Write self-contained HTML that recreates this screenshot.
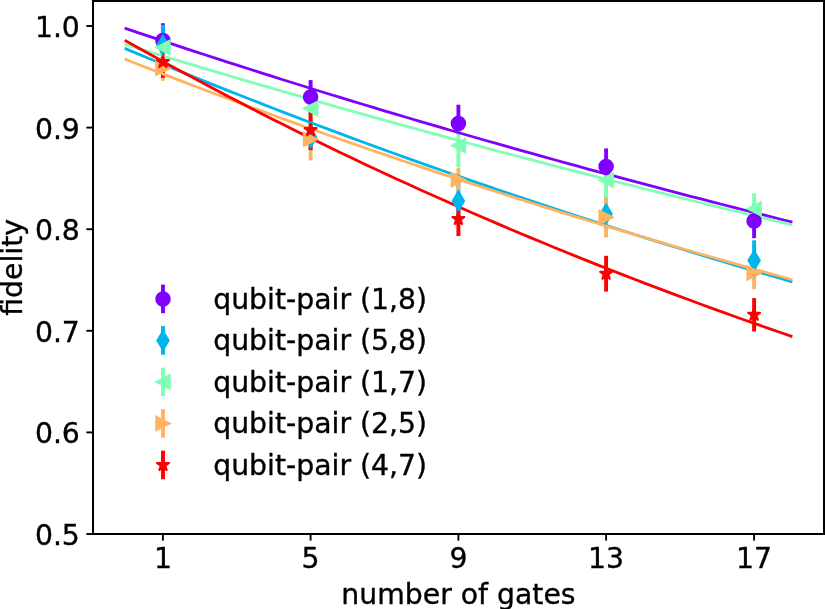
<!DOCTYPE html>
<html><head><meta charset="utf-8"><title>fidelity vs number of gates</title>
<style>html,body{margin:0;padding:0;background:#fff;} body{width:825px;height:609px;overflow:hidden;} svg{display:block;}</style>
</head><body>
<svg width="825" height="609" viewBox="0 0 825 609">
<rect x="0" y="0" width="825" height="609" fill="#ffffff"/>
<line x1="162.9" y1="23.2" x2="162.9" y2="57.6" stroke="#8000ff" stroke-width="3.9"/>
<line x1="310.6" y1="80.1" x2="310.6" y2="113.9" stroke="#8000ff" stroke-width="3.9"/>
<line x1="458.4" y1="104.7" x2="458.4" y2="132.5" stroke="#8000ff" stroke-width="3.9"/>
<line x1="606.1" y1="148.4" x2="606.1" y2="184.8" stroke="#8000ff" stroke-width="3.9"/>
<line x1="754.1" y1="203.6" x2="754.1" y2="238.2" stroke="#8000ff" stroke-width="3.9"/>
<line x1="162.9" y1="24.9" x2="162.9" y2="65.5" stroke="#00b5eb" stroke-width="3.9"/>
<line x1="310.6" y1="125.6" x2="310.6" y2="149.6" stroke="#00b5eb" stroke-width="3.9"/>
<line x1="458.4" y1="182.9" x2="458.4" y2="218.9" stroke="#00b5eb" stroke-width="3.9"/>
<line x1="606.1" y1="195.9" x2="606.1" y2="231.9" stroke="#00b5eb" stroke-width="3.9"/>
<line x1="754.1" y1="240.3" x2="754.1" y2="280.7" stroke="#00b5eb" stroke-width="3.9"/>
<line x1="162.9" y1="34.4" x2="162.9" y2="60.4" stroke="#80ffb4" stroke-width="3.9"/>
<line x1="310.6" y1="90.6" x2="310.6" y2="126.6" stroke="#80ffb4" stroke-width="3.9"/>
<line x1="458.4" y1="123.8" x2="458.4" y2="167.4" stroke="#80ffb4" stroke-width="3.9"/>
<line x1="606.1" y1="163.2" x2="606.1" y2="197.2" stroke="#80ffb4" stroke-width="3.9"/>
<line x1="754.1" y1="193.2" x2="754.1" y2="224.2" stroke="#80ffb4" stroke-width="3.9"/>
<line x1="162.9" y1="55.8" x2="162.9" y2="80.8" stroke="#ffb360" stroke-width="3.9"/>
<line x1="310.6" y1="118.1" x2="310.6" y2="160.5" stroke="#ffb360" stroke-width="3.9"/>
<line x1="458.4" y1="168.1" x2="458.4" y2="191.5" stroke="#ffb360" stroke-width="3.9"/>
<line x1="606.1" y1="196.9" x2="606.1" y2="237.5" stroke="#ffb360" stroke-width="3.9"/>
<line x1="754.1" y1="256.7" x2="754.1" y2="289.1" stroke="#ffb360" stroke-width="3.9"/>
<line x1="162.9" y1="46.1" x2="162.9" y2="77.9" stroke="#ff0000" stroke-width="3.9"/>
<line x1="310.6" y1="110.1" x2="310.6" y2="150.1" stroke="#ff0000" stroke-width="3.9"/>
<line x1="458.4" y1="201.7" x2="458.4" y2="236.1" stroke="#ff0000" stroke-width="3.9"/>
<line x1="606.1" y1="255.8" x2="606.1" y2="291.6" stroke="#ff0000" stroke-width="3.9"/>
<line x1="754.1" y1="298.1" x2="754.1" y2="331.5" stroke="#ff0000" stroke-width="3.9"/>
<path d="M125.95 28.61 L137.22 32.4 L148.5 36.18 L159.77 39.93 L171.04 43.67 L182.31 47.39 L193.59 51.08 L204.86 54.76 L216.13 58.42 L227.41 62.06 L238.68 65.68 L249.95 69.28 L261.22 72.86 L272.5 76.43 L283.77 79.97 L295.04 83.5 L306.32 87.01 L317.59 90.5 L328.86 93.97 L340.13 97.42 L351.41 100.86 L362.68 104.28 L373.95 107.68 L385.23 111.06 L396.5 114.43 L407.77 117.77 L419.04 121.1 L430.32 124.42 L441.59 127.71 L452.86 130.99 L464.14 134.25 L475.41 137.5 L486.68 140.73 L497.96 143.94 L509.23 147.13 L520.5 150.31 L531.77 153.47 L543.05 156.61 L554.32 159.74 L565.59 162.85 L576.87 165.95 L588.14 169.03 L599.41 172.09 L610.68 175.14 L621.96 178.17 L633.23 181.19 L644.5 184.19 L655.78 187.17 L667.05 190.14 L678.32 193.09 L689.59 196.03 L700.87 198.96 L712.14 201.86 L723.41 204.76 L734.69 207.63 L745.96 210.5 L757.23 213.34 L768.5 216.18 L779.78 218.99 L791.05 221.8" fill="none" stroke="#8000ff" stroke-width="2.8" stroke-linecap="square" stroke-linejoin="round"/>
<path d="M125.95 48.89 L137.22 53.62 L148.5 58.31 L159.77 62.97 L171.04 67.6 L182.31 72.21 L193.59 76.78 L204.86 81.33 L216.13 85.84 L227.41 90.33 L238.68 94.79 L249.95 99.21 L261.22 103.62 L272.5 107.99 L283.77 112.33 L295.04 116.65 L306.32 120.94 L317.59 125.2 L328.86 129.43 L340.13 133.64 L351.41 137.82 L362.68 141.97 L373.95 146.1 L385.23 150.2 L396.5 154.27 L407.77 158.32 L419.04 162.34 L430.32 166.33 L441.59 170.3 L452.86 174.25 L464.14 178.17 L475.41 182.06 L486.68 185.93 L497.96 189.78 L509.23 193.6 L520.5 197.39 L531.77 201.16 L543.05 204.91 L554.32 208.63 L565.59 212.33 L576.87 216 L588.14 219.66 L599.41 223.28 L610.68 226.89 L621.96 230.47 L633.23 234.03 L644.5 237.56 L655.78 241.08 L667.05 244.57 L678.32 248.03 L689.59 251.48 L700.87 254.9 L712.14 258.31 L723.41 261.69 L734.69 265.04 L745.96 268.38 L757.23 271.7 L768.5 274.99 L779.78 278.26 L791.05 281.52" fill="none" stroke="#00b5eb" stroke-width="2.8" stroke-linecap="square" stroke-linejoin="round"/>
<path d="M125.95 44.69 L137.22 48.15 L148.5 51.59 L159.77 55.02 L171.04 58.43 L182.31 61.83 L193.59 65.21 L204.86 68.58 L216.13 71.93 L227.41 75.26 L238.68 78.59 L249.95 81.89 L261.22 85.19 L272.5 88.46 L283.77 91.73 L295.04 94.97 L306.32 98.21 L317.59 101.43 L328.86 104.63 L340.13 107.82 L351.41 111 L362.68 114.16 L373.95 117.31 L385.23 120.45 L396.5 123.57 L407.77 126.67 L419.04 129.77 L430.32 132.84 L441.59 135.91 L452.86 138.96 L464.14 142 L475.41 145.02 L486.68 148.03 L497.96 151.03 L509.23 154.02 L520.5 156.99 L531.77 159.95 L543.05 162.89 L554.32 165.82 L565.59 168.74 L576.87 171.64 L588.14 174.54 L599.41 177.42 L610.68 180.28 L621.96 183.14 L633.23 185.98 L644.5 188.81 L655.78 191.62 L667.05 194.43 L678.32 197.22 L689.59 200 L700.87 202.76 L712.14 205.52 L723.41 208.26 L734.69 210.99 L745.96 213.7 L757.23 216.41 L768.5 219.1 L779.78 221.78 L791.05 224.45" fill="none" stroke="#80ffb4" stroke-width="2.8" stroke-linecap="square" stroke-linejoin="round"/>
<path d="M125.95 59.53 L137.22 63.96 L148.5 68.36 L159.77 72.74 L171.04 77.09 L182.31 81.41 L193.59 85.7 L204.86 89.97 L216.13 94.21 L227.41 98.43 L238.68 102.62 L249.95 106.79 L261.22 110.92 L272.5 115.04 L283.77 119.13 L295.04 123.19 L306.32 127.23 L317.59 131.24 L328.86 135.23 L340.13 139.2 L351.41 143.14 L362.68 147.05 L373.95 150.95 L385.23 154.82 L396.5 158.66 L407.77 162.48 L419.04 166.28 L430.32 170.05 L441.59 173.81 L452.86 177.53 L464.14 181.24 L475.41 184.92 L486.68 188.58 L497.96 192.22 L509.23 195.84 L520.5 199.43 L531.77 203 L543.05 206.55 L554.32 210.08 L565.59 213.58 L576.87 217.07 L588.14 220.53 L599.41 223.97 L610.68 227.39 L621.96 230.79 L633.23 234.17 L644.5 237.53 L655.78 240.87 L667.05 244.19 L678.32 247.48 L689.59 250.76 L700.87 254.02 L712.14 257.25 L723.41 260.47 L734.69 263.67 L745.96 266.85 L757.23 270 L768.5 273.14 L779.78 276.26 L791.05 279.36" fill="none" stroke="#ffb360" stroke-width="2.8" stroke-linecap="square" stroke-linejoin="round"/>
<path d="M125.95 40.95 L137.22 47.27 L148.5 53.54 L159.77 59.76 L171.04 65.92 L182.31 72.04 L193.59 78.1 L204.86 84.11 L216.13 90.08 L227.41 95.99 L238.68 101.85 L249.95 107.66 L261.22 113.43 L272.5 119.14 L283.77 124.81 L295.04 130.43 L306.32 136 L317.59 141.53 L328.86 147.01 L340.13 152.44 L351.41 157.83 L362.68 163.17 L373.95 168.47 L385.23 173.73 L396.5 178.94 L407.77 184.1 L419.04 189.22 L430.32 194.3 L441.59 199.34 L452.86 204.34 L464.14 209.29 L475.41 214.2 L486.68 219.07 L497.96 223.9 L509.23 228.69 L520.5 233.44 L531.77 238.14 L543.05 242.81 L554.32 247.44 L565.59 252.03 L576.87 256.59 L588.14 261.1 L599.41 265.58 L610.68 270.02 L621.96 274.42 L633.23 278.78 L644.5 283.11 L655.78 287.4 L667.05 291.66 L678.32 295.88 L689.59 300.06 L700.87 304.21 L712.14 308.33 L723.41 312.41 L734.69 316.45 L745.96 320.46 L757.23 324.44 L768.5 328.39 L779.78 332.3 L791.05 336.18" fill="none" stroke="#ff0000" stroke-width="2.8" stroke-linecap="square" stroke-linejoin="round"/>
<circle cx="162.9" cy="40.4" r="6.9" fill="#8000ff" stroke="#8000ff" stroke-width="1.73"/>
<circle cx="310.6" cy="97" r="6.9" fill="#8000ff" stroke="#8000ff" stroke-width="1.73"/>
<circle cx="458.4" cy="123.5" r="6.9" fill="#8000ff" stroke="#8000ff" stroke-width="1.73"/>
<circle cx="606.1" cy="166.6" r="6.9" fill="#8000ff" stroke="#8000ff" stroke-width="1.73"/>
<circle cx="754.1" cy="220.9" r="6.9" fill="#8000ff" stroke="#8000ff" stroke-width="1.73"/>
<path d="M162.9 35.44 L168.75 45.2 L162.9 54.96 L157.05 45.2 Z" fill="#00b5eb" stroke="#00b5eb" stroke-width="1.73" stroke-linejoin="miter" stroke-miterlimit="10"/>
<path d="M310.6 127.84 L316.45 137.6 L310.6 147.36 L304.75 137.6 Z" fill="#00b5eb" stroke="#00b5eb" stroke-width="1.73" stroke-linejoin="miter" stroke-miterlimit="10"/>
<path d="M458.4 191.14 L464.25 200.9 L458.4 210.66 L452.55 200.9 Z" fill="#00b5eb" stroke="#00b5eb" stroke-width="1.73" stroke-linejoin="miter" stroke-miterlimit="10"/>
<path d="M606.1 204.14 L611.95 213.9 L606.1 223.66 L600.25 213.9 Z" fill="#00b5eb" stroke="#00b5eb" stroke-width="1.73" stroke-linejoin="miter" stroke-miterlimit="10"/>
<path d="M754.1 250.74 L759.95 260.5 L754.1 270.26 L748.25 260.5 Z" fill="#00b5eb" stroke="#00b5eb" stroke-width="1.73" stroke-linejoin="miter" stroke-miterlimit="10"/>
<path d="M156 47.4 L169.8 40.5 L169.8 54.3 Z" fill="#80ffb4" stroke="#80ffb4" stroke-width="1.73" stroke-linejoin="miter" stroke-miterlimit="10"/>
<path d="M303.7 108.6 L317.5 101.7 L317.5 115.5 Z" fill="#80ffb4" stroke="#80ffb4" stroke-width="1.73" stroke-linejoin="miter" stroke-miterlimit="10"/>
<path d="M451.5 145.6 L465.3 138.7 L465.3 152.5 Z" fill="#80ffb4" stroke="#80ffb4" stroke-width="1.73" stroke-linejoin="miter" stroke-miterlimit="10"/>
<path d="M599.2 180.2 L613 173.3 L613 187.1 Z" fill="#80ffb4" stroke="#80ffb4" stroke-width="1.73" stroke-linejoin="miter" stroke-miterlimit="10"/>
<path d="M747.2 208.7 L761 201.8 L761 215.6 Z" fill="#80ffb4" stroke="#80ffb4" stroke-width="1.73" stroke-linejoin="miter" stroke-miterlimit="10"/>
<path d="M169.8 68.3 L156 61.4 L156 75.2 Z" fill="#ffb360" stroke="#ffb360" stroke-width="1.73" stroke-linejoin="miter" stroke-miterlimit="10"/>
<path d="M317.5 139.3 L303.7 132.4 L303.7 146.2 Z" fill="#ffb360" stroke="#ffb360" stroke-width="1.73" stroke-linejoin="miter" stroke-miterlimit="10"/>
<path d="M465.3 179.8 L451.5 172.9 L451.5 186.7 Z" fill="#ffb360" stroke="#ffb360" stroke-width="1.73" stroke-linejoin="miter" stroke-miterlimit="10"/>
<path d="M613 217.2 L599.2 210.3 L599.2 224.1 Z" fill="#ffb360" stroke="#ffb360" stroke-width="1.73" stroke-linejoin="miter" stroke-miterlimit="10"/>
<path d="M761 272.9 L747.2 266 L747.2 279.8 Z" fill="#ffb360" stroke="#ffb360" stroke-width="1.73" stroke-linejoin="miter" stroke-miterlimit="10"/>
<path d="M162.9 55.1 L161.35 59.87 L156.34 59.87 L160.39 62.81 L158.84 67.58 L162.9 64.64 L166.96 67.58 L165.41 62.81 L169.46 59.87 L164.45 59.87 Z" fill="#ff0000" stroke="#ff0000" stroke-width="1.73" stroke-linejoin="bevel" stroke-miterlimit="10"/>
<path d="M310.6 123.2 L309.05 127.97 L304.04 127.97 L308.09 130.91 L306.54 135.68 L310.6 132.74 L314.66 135.68 L313.11 130.91 L317.16 127.97 L312.15 127.97 Z" fill="#ff0000" stroke="#ff0000" stroke-width="1.73" stroke-linejoin="bevel" stroke-miterlimit="10"/>
<path d="M458.4 212 L456.85 216.77 L451.84 216.77 L455.89 219.71 L454.34 224.48 L458.4 221.54 L462.46 224.48 L460.91 219.71 L464.96 216.77 L459.95 216.77 Z" fill="#ff0000" stroke="#ff0000" stroke-width="1.73" stroke-linejoin="bevel" stroke-miterlimit="10"/>
<path d="M606.1 266.8 L604.55 271.57 L599.54 271.57 L603.59 274.51 L602.04 279.28 L606.1 276.34 L610.16 279.28 L608.61 274.51 L612.66 271.57 L607.65 271.57 Z" fill="#ff0000" stroke="#ff0000" stroke-width="1.73" stroke-linejoin="bevel" stroke-miterlimit="10"/>
<path d="M754.1 307.9 L752.55 312.67 L747.54 312.67 L751.59 315.61 L750.04 320.38 L754.1 317.44 L758.16 320.38 L756.61 315.61 L760.66 312.67 L755.65 312.67 Z" fill="#ff0000" stroke="#ff0000" stroke-width="1.73" stroke-linejoin="bevel" stroke-miterlimit="10"/>
<path d="M93.0 534.0 L93.0 1.0 L824.0 1.0 L824.0 534.0 Z" fill="none" stroke="#000" stroke-width="2.0" stroke-linecap="square" stroke-linejoin="miter"/>
<line x1="162.9" y1="534.0" x2="162.9" y2="540.6" stroke="#000" stroke-width="1.9"/>
<text x="162.9" y="568.3" text-anchor="middle" font-family="'DejaVu Sans', 'Liberation Sans', sans-serif" font-size="28.3" fill="#000" stroke="#000" stroke-width="0.35">1</text>
<line x1="310.6" y1="534.0" x2="310.6" y2="540.6" stroke="#000" stroke-width="1.9"/>
<text x="310.6" y="568.3" text-anchor="middle" font-family="'DejaVu Sans', 'Liberation Sans', sans-serif" font-size="28.3" fill="#000" stroke="#000" stroke-width="0.35">5</text>
<line x1="458.4" y1="534.0" x2="458.4" y2="540.6" stroke="#000" stroke-width="1.9"/>
<text x="458.4" y="568.3" text-anchor="middle" font-family="'DejaVu Sans', 'Liberation Sans', sans-serif" font-size="28.3" fill="#000" stroke="#000" stroke-width="0.35">9</text>
<line x1="606.1" y1="534.0" x2="606.1" y2="540.6" stroke="#000" stroke-width="1.9"/>
<text x="606.1" y="568.3" text-anchor="middle" font-family="'DejaVu Sans', 'Liberation Sans', sans-serif" font-size="28.3" fill="#000" stroke="#000" stroke-width="0.35">13</text>
<line x1="754.1" y1="534.0" x2="754.1" y2="540.6" stroke="#000" stroke-width="1.9"/>
<text x="754.1" y="568.3" text-anchor="middle" font-family="'DejaVu Sans', 'Liberation Sans', sans-serif" font-size="28.3" fill="#000" stroke="#000" stroke-width="0.35">17</text>
<line x1="86.4" y1="534" x2="93.0" y2="534" stroke="#000" stroke-width="1.9"/>
<text x="79.9" y="544.9" text-anchor="end" font-family="'DejaVu Sans', 'Liberation Sans', sans-serif" font-size="28.3" fill="#000" stroke="#000" stroke-width="0.35">0.5</text>
<line x1="86.4" y1="432.4" x2="93.0" y2="432.4" stroke="#000" stroke-width="1.9"/>
<text x="79.9" y="443.3" text-anchor="end" font-family="'DejaVu Sans', 'Liberation Sans', sans-serif" font-size="28.3" fill="#000" stroke="#000" stroke-width="0.35">0.6</text>
<line x1="86.4" y1="330.8" x2="93.0" y2="330.8" stroke="#000" stroke-width="1.9"/>
<text x="79.9" y="341.7" text-anchor="end" font-family="'DejaVu Sans', 'Liberation Sans', sans-serif" font-size="28.3" fill="#000" stroke="#000" stroke-width="0.35">0.7</text>
<line x1="86.4" y1="229.2" x2="93.0" y2="229.2" stroke="#000" stroke-width="1.9"/>
<text x="79.9" y="240.1" text-anchor="end" font-family="'DejaVu Sans', 'Liberation Sans', sans-serif" font-size="28.3" fill="#000" stroke="#000" stroke-width="0.35">0.8</text>
<line x1="86.4" y1="127.6" x2="93.0" y2="127.6" stroke="#000" stroke-width="1.9"/>
<text x="79.9" y="138.5" text-anchor="end" font-family="'DejaVu Sans', 'Liberation Sans', sans-serif" font-size="28.3" fill="#000" stroke="#000" stroke-width="0.35">0.9</text>
<line x1="86.4" y1="26" x2="93.0" y2="26" stroke="#000" stroke-width="1.9"/>
<text x="79.9" y="36.9" text-anchor="end" font-family="'DejaVu Sans', 'Liberation Sans', sans-serif" font-size="28.3" fill="#000" stroke="#000" stroke-width="0.35">1.0</text>
<text x="458.5" y="603.5" text-anchor="middle" font-family="'DejaVu Sans', 'Liberation Sans', sans-serif" font-size="28.3" fill="#000" stroke="#000" stroke-width="0.35">number of gates</text>
<text transform="translate(21.8 267.4) rotate(-90)" x="0" y="0" text-anchor="middle" font-family="'DejaVu Sans', 'Liberation Sans', sans-serif" font-size="28.3" fill="#000" stroke="#000" stroke-width="0.35">fidelity</text>
<line x1="163" y1="284.6" x2="163" y2="313.2" stroke="#8000ff" stroke-width="3.9"/>
<circle cx="163" cy="298.9" r="6.9" fill="#8000ff" stroke="#8000ff" stroke-width="1.73"/>
<text x="213.2" y="308.8" font-family="'DejaVu Sans', 'Liberation Sans', sans-serif" font-size="28.3" fill="#000" stroke="#000" stroke-width="0.35">qubit-pair (1,8)</text>
<line x1="163" y1="326.1" x2="163" y2="354.7" stroke="#00b5eb" stroke-width="3.9"/>
<path d="M163 330.64 L168.85 340.4 L163 350.16 L157.15 340.4 Z" fill="#00b5eb" stroke="#00b5eb" stroke-width="1.73" stroke-linejoin="miter" stroke-miterlimit="10"/>
<text x="213.2" y="350.3" font-family="'DejaVu Sans', 'Liberation Sans', sans-serif" font-size="28.3" fill="#000" stroke="#000" stroke-width="0.35">qubit-pair (5,8)</text>
<line x1="163" y1="367.6" x2="163" y2="396.2" stroke="#80ffb4" stroke-width="3.9"/>
<path d="M156.1 381.9 L169.9 375 L169.9 388.8 Z" fill="#80ffb4" stroke="#80ffb4" stroke-width="1.73" stroke-linejoin="miter" stroke-miterlimit="10"/>
<text x="213.2" y="391.8" font-family="'DejaVu Sans', 'Liberation Sans', sans-serif" font-size="28.3" fill="#000" stroke="#000" stroke-width="0.35">qubit-pair (1,7)</text>
<line x1="163" y1="409.1" x2="163" y2="437.7" stroke="#ffb360" stroke-width="3.9"/>
<path d="M169.9 423.4 L156.1 416.5 L156.1 430.3 Z" fill="#ffb360" stroke="#ffb360" stroke-width="1.73" stroke-linejoin="miter" stroke-miterlimit="10"/>
<text x="213.2" y="433.3" font-family="'DejaVu Sans', 'Liberation Sans', sans-serif" font-size="28.3" fill="#000" stroke="#000" stroke-width="0.35">qubit-pair (2,5)</text>
<line x1="163" y1="450.6" x2="163" y2="479.2" stroke="#ff0000" stroke-width="3.9"/>
<path d="M163 458 L161.45 462.77 L156.44 462.77 L160.49 465.71 L158.94 470.48 L163 467.54 L167.06 470.48 L165.51 465.71 L169.56 462.77 L164.55 462.77 Z" fill="#ff0000" stroke="#ff0000" stroke-width="1.73" stroke-linejoin="bevel" stroke-miterlimit="10"/>
<text x="213.2" y="474.8" font-family="'DejaVu Sans', 'Liberation Sans', sans-serif" font-size="28.3" fill="#000" stroke="#000" stroke-width="0.35">qubit-pair (4,7)</text>
</svg>
</body></html>
